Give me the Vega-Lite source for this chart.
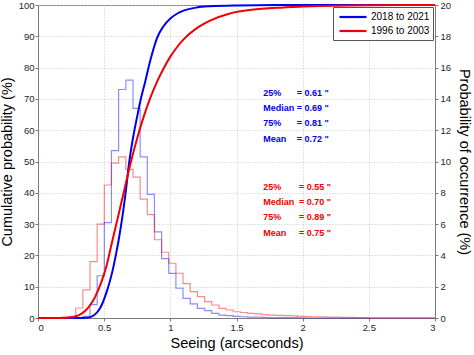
{
  "$schema": "https://vega.github.io/schema/vega-lite/v6.json",
  "width": 397,
  "height": 313,
  "autosize": {"type": "none"},
  "padding": {"left": 38, "top": 5, "right": 39, "bottom": 37},
  "config": {
    "font": "Liberation Sans",
    "view": {"stroke": "#7a7a7a", "strokeWidth": 1},
    "axis": {
      "labelFont": "Liberation Sans",
      "labelFontSize": 9.5,
      "labelColor": "#262626",
      "titleFont": "Liberation Sans",
      "titleFontSize": 14.5,
      "titleFontWeight": "normal",
      "titleColor": "#000000",
      "domainColor": "#7a7a7a",
      "tickColor": "#7a7a7a",
      "tickSize": 3,
      "labelPadding": 1,
      "gridColor": "#c4c4c4",
      "gridDash": [1, 2],
      "gridWidth": 1
    },
    "legend": {
      "orient": "top-right", "offset": 2, "title": null,
      "symbolType": "M-2.7,0H2.7", "symbolSize": 100, "symbolOffset": 10,
      "symbolStrokeWidth": 2.2, "symbolOpacity": 1, "labelFontSize": 10, "labelColor": "#000000",
      "fillColor": "#ffffff", "strokeColor": "#555555", "padding": 3.5, "rowPadding": 2, "labelOffset": 11.5
    }
  },
  "datasets": {
    "hist": [
      {"period": "2018 to 2021", "seeing": 0, "prob": 0},
      {"period": "2018 to 2021", "seeing": 0.339, "prob": 0.1},
      {"period": "2018 to 2021", "seeing": 0.393, "prob": 0.85},
      {"period": "2018 to 2021", "seeing": 0.447, "prob": 2.7},
      {"period": "2018 to 2021", "seeing": 0.501, "prob": 6.1},
      {"period": "2018 to 2021", "seeing": 0.555, "prob": 10.7},
      {"period": "2018 to 2021", "seeing": 0.609, "prob": 14.6},
      {"period": "2018 to 2021", "seeing": 0.664, "prob": 15.2},
      {"period": "2018 to 2021", "seeing": 0.718, "prob": 13.4},
      {"period": "2018 to 2021", "seeing": 0.772, "prob": 10.3},
      {"period": "2018 to 2021", "seeing": 0.826, "prob": 7.9},
      {"period": "2018 to 2021", "seeing": 0.880, "prob": 5.5},
      {"period": "2018 to 2021", "seeing": 0.934, "prob": 3.8},
      {"period": "2018 to 2021", "seeing": 0.988, "prob": 2.85},
      {"period": "2018 to 2021", "seeing": 1.042, "prob": 1.9},
      {"period": "2018 to 2021", "seeing": 1.096, "prob": 1.25},
      {"period": "2018 to 2021", "seeing": 1.150, "prob": 0.9},
      {"period": "2018 to 2021", "seeing": 1.205, "prob": 0.62},
      {"period": "2018 to 2021", "seeing": 1.259, "prob": 0.47},
      {"period": "2018 to 2021", "seeing": 1.313, "prob": 0.3},
      {"period": "2018 to 2021", "seeing": 1.367, "prob": 0.19},
      {"period": "2018 to 2021", "seeing": 1.421, "prob": 0.15},
      {"period": "2018 to 2021", "seeing": 1.475, "prob": 0.1},
      {"period": "2018 to 2021", "seeing": 1.529, "prob": 0.08},
      {"period": "2018 to 2021", "seeing": 1.583, "prob": 0.06},
      {"period": "2018 to 2021", "seeing": 1.637, "prob": 0.05},
      {"period": "2018 to 2021", "seeing": 1.691, "prob": 0.04},
      {"period": "2018 to 2021", "seeing": 1.745, "prob": 0.03},
      {"period": "2018 to 2021", "seeing": 1.799, "prob": 0.03},
      {"period": "2018 to 2021", "seeing": 1.854, "prob": 0.02},
      {"period": "2018 to 2021", "seeing": 1.908, "prob": 0.02},
      {"period": "2018 to 2021", "seeing": 1.962, "prob": 0.01},
      {"period": "2018 to 2021", "seeing": 2.016, "prob": 0},
      {"period": "2018 to 2021", "seeing": 3, "prob": 0},
      {"period": "1996 to 2003", "seeing": 0, "prob": 0},
      {"period": "1996 to 2003", "seeing": 0.177, "prob": 0.05},
      {"period": "1996 to 2003", "seeing": 0.231, "prob": 0.1},
      {"period": "1996 to 2003", "seeing": 0.285, "prob": 0.64},
      {"period": "1996 to 2003", "seeing": 0.339, "prob": 1.8},
      {"period": "1996 to 2003", "seeing": 0.393, "prob": 3.6},
      {"period": "1996 to 2003", "seeing": 0.447, "prob": 6.0},
      {"period": "1996 to 2003", "seeing": 0.501, "prob": 8.5},
      {"period": "1996 to 2003", "seeing": 0.555, "prob": 9.9},
      {"period": "1996 to 2003", "seeing": 0.609, "prob": 10.3},
      {"period": "1996 to 2003", "seeing": 0.664, "prob": 9.5},
      {"period": "1996 to 2003", "seeing": 0.718, "prob": 9.0},
      {"period": "1996 to 2003", "seeing": 0.772, "prob": 7.6},
      {"period": "1996 to 2003", "seeing": 0.826, "prob": 6.6},
      {"period": "1996 to 2003", "seeing": 0.880, "prob": 5.0},
      {"period": "1996 to 2003", "seeing": 0.934, "prob": 4.2},
      {"period": "1996 to 2003", "seeing": 0.988, "prob": 3.5},
      {"period": "1996 to 2003", "seeing": 1.042, "prob": 2.86},
      {"period": "1996 to 2003", "seeing": 1.096, "prob": 2.2},
      {"period": "1996 to 2003", "seeing": 1.150, "prob": 1.68},
      {"period": "1996 to 2003", "seeing": 1.205, "prob": 1.36},
      {"period": "1996 to 2003", "seeing": 1.259, "prob": 1.04},
      {"period": "1996 to 2003", "seeing": 1.313, "prob": 0.83},
      {"period": "1996 to 2003", "seeing": 1.367, "prob": 0.62},
      {"period": "1996 to 2003", "seeing": 1.421, "prob": 0.51},
      {"period": "1996 to 2003", "seeing": 1.475, "prob": 0.4},
      {"period": "1996 to 2003", "seeing": 1.529, "prob": 0.35},
      {"period": "1996 to 2003", "seeing": 1.583, "prob": 0.3},
      {"period": "1996 to 2003", "seeing": 1.637, "prob": 0.26},
      {"period": "1996 to 2003", "seeing": 1.691, "prob": 0.22},
      {"period": "1996 to 2003", "seeing": 1.745, "prob": 0.19},
      {"period": "1996 to 2003", "seeing": 1.799, "prob": 0.17},
      {"period": "1996 to 2003", "seeing": 1.854, "prob": 0.15},
      {"period": "1996 to 2003", "seeing": 1.908, "prob": 0.13},
      {"period": "1996 to 2003", "seeing": 1.962, "prob": 0.11},
      {"period": "1996 to 2003", "seeing": 2.016, "prob": 0.09},
      {"period": "1996 to 2003", "seeing": 2.070, "prob": 0.08},
      {"period": "1996 to 2003", "seeing": 2.124, "prob": 0.07},
      {"period": "1996 to 2003", "seeing": 2.178, "prob": 0.06},
      {"period": "1996 to 2003", "seeing": 2.232, "prob": 0.05},
      {"period": "1996 to 2003", "seeing": 2.286, "prob": 0.04},
      {"period": "1996 to 2003", "seeing": 2.340, "prob": 0.04},
      {"period": "1996 to 2003", "seeing": 2.394, "prob": 0.03},
      {"period": "1996 to 2003", "seeing": 2.448, "prob": 0.02},
      {"period": "1996 to 2003", "seeing": 2.502, "prob": 0},
      {"period": "1996 to 2003", "seeing": 3, "prob": 0}
    ],
    "cdf": [
      {"period": "2018 to 2021", "seeing": 0, "cum": 0},
      {"period": "2018 to 2021", "seeing": 0.30, "cum": 0},
      {"period": "2018 to 2021", "seeing": 0.37, "cum": 0.1},
      {"period": "2018 to 2021", "seeing": 0.42, "cum": 0.8},
      {"period": "2018 to 2021", "seeing": 0.47, "cum": 3.2},
      {"period": "2018 to 2021", "seeing": 0.52, "cum": 8.5},
      {"period": "2018 to 2021", "seeing": 0.56, "cum": 14.5},
      {"period": "2018 to 2021", "seeing": 0.59, "cum": 20.5},
      {"period": "2018 to 2021", "seeing": 0.61, "cum": 25},
      {"period": "2018 to 2021", "seeing": 0.64, "cum": 33},
      {"period": "2018 to 2021", "seeing": 0.665, "cum": 41},
      {"period": "2018 to 2021", "seeing": 0.69, "cum": 50},
      {"period": "2018 to 2021", "seeing": 0.72, "cum": 58},
      {"period": "2018 to 2021", "seeing": 0.75, "cum": 64.5},
      {"period": "2018 to 2021", "seeing": 0.78, "cum": 70.5},
      {"period": "2018 to 2021", "seeing": 0.81, "cum": 75.5},
      {"period": "2018 to 2021", "seeing": 0.85, "cum": 82.5},
      {"period": "2018 to 2021", "seeing": 0.90, "cum": 89.5},
      {"period": "2018 to 2021", "seeing": 0.95, "cum": 93.3},
      {"period": "2018 to 2021", "seeing": 1.0, "cum": 95.7},
      {"period": "2018 to 2021", "seeing": 1.05, "cum": 97.2},
      {"period": "2018 to 2021", "seeing": 1.1, "cum": 98.2},
      {"period": "2018 to 2021", "seeing": 1.2, "cum": 99.2},
      {"period": "2018 to 2021", "seeing": 1.3, "cum": 99.6},
      {"period": "2018 to 2021", "seeing": 1.5, "cum": 99.88},
      {"period": "2018 to 2021", "seeing": 1.8, "cum": 100},
      {"period": "2018 to 2021", "seeing": 3, "cum": 100},
      {"period": "1996 to 2003", "seeing": 0, "cum": 0},
      {"period": "1996 to 2003", "seeing": 0.15, "cum": 0},
      {"period": "1996 to 2003", "seeing": 0.22, "cum": 0.1},
      {"period": "1996 to 2003", "seeing": 0.28, "cum": 0.5},
      {"period": "1996 to 2003", "seeing": 0.33, "cum": 1.4},
      {"period": "1996 to 2003", "seeing": 0.38, "cum": 3.3},
      {"period": "1996 to 2003", "seeing": 0.43, "cum": 6.6},
      {"period": "1996 to 2003", "seeing": 0.48, "cum": 11.6},
      {"period": "1996 to 2003", "seeing": 0.52, "cum": 17},
      {"period": "1996 to 2003", "seeing": 0.55, "cum": 22.5},
      {"period": "1996 to 2003", "seeing": 0.60, "cum": 31.5},
      {"period": "1996 to 2003", "seeing": 0.65, "cum": 40.5},
      {"period": "1996 to 2003", "seeing": 0.70, "cum": 49.5},
      {"period": "1996 to 2003", "seeing": 0.75, "cum": 57.5},
      {"period": "1996 to 2003", "seeing": 0.80, "cum": 64.5},
      {"period": "1996 to 2003", "seeing": 0.85, "cum": 70.5},
      {"period": "1996 to 2003", "seeing": 0.90, "cum": 75.5},
      {"period": "1996 to 2003", "seeing": 0.95, "cum": 79.8},
      {"period": "1996 to 2003", "seeing": 1.0, "cum": 83.5},
      {"period": "1996 to 2003", "seeing": 1.05, "cum": 86.5},
      {"period": "1996 to 2003", "seeing": 1.1, "cum": 89},
      {"period": "1996 to 2003", "seeing": 1.2, "cum": 92.6},
      {"period": "1996 to 2003", "seeing": 1.3, "cum": 95},
      {"period": "1996 to 2003", "seeing": 1.45, "cum": 97.3},
      {"period": "1996 to 2003", "seeing": 1.6, "cum": 98.4},
      {"period": "1996 to 2003", "seeing": 1.8, "cum": 99.1},
      {"period": "1996 to 2003", "seeing": 2.0, "cum": 99.5},
      {"period": "1996 to 2003", "seeing": 2.5, "cum": 99.95},
      {"period": "1996 to 2003", "seeing": 3, "cum": 100}
    ],
    "stats": [
      {"period": "2018 to 2021", "lx": 1.703, "vx": 1.955, "y": 71.8, "label": "25%", "val": "=  0.61 \""},
      {"period": "2018 to 2021", "lx": 1.703, "vx": 1.955, "y": 67.0, "label": "Median", "val": "=  0.69 \""},
      {"period": "2018 to 2021", "lx": 1.703, "vx": 1.955, "y": 62.2, "label": "75%", "val": "=  0.81 \""},
      {"period": "2018 to 2021", "lx": 1.703, "vx": 1.955, "y": 57.1, "label": "Mean", "val": "=  0.72 \""},
      {"period": "1996 to 2003", "lx": 1.703, "vx": 1.973, "y": 41.9, "label": "25%", "val": "=  0.55 \""},
      {"period": "1996 to 2003", "lx": 1.703, "vx": 1.973, "y": 37.2, "label": "Median", "val": "=  0.70 \""},
      {"period": "1996 to 2003", "lx": 1.703, "vx": 1.973, "y": 32.2, "label": "75%", "val": "=  0.89 \""},
      {"period": "1996 to 2003", "lx": 1.703, "vx": 1.973, "y": 27.1, "label": "Mean", "val": "=  0.75 \""}
    ]
  },
  "layer": [
    {
      "data": {"name": "hist"},
      "mark": {"type": "line", "interpolate": "step-after", "strokeWidth": 1.2, "opacity": 0.45},
      "encoding": {
        "x": {"field": "seeing", "type": "quantitative", "scale": {"domain": [0, 3]},
              "axis": {"title": "Seeing (arcseconds)", "values": [0, 0.5, 1, 1.5, 2, 2.5, 3], "format": "~g", "grid": true, "titlePadding": 5}},
        "y": {"field": "prob", "type": "quantitative", "scale": {"domain": [0, 20]},
              "axis": {"orient": "right", "title": "Probability of occurrence (%)", "values": [0, 2, 4, 6, 8, 10, 12, 14, 16, 18, 20], "grid": false, "labelPadding": 2, "titlePadding": 6}},
        "color": {"field": "period", "type": "nominal",
                  "scale": {"domain": ["2018 to 2021", "1996 to 2003"], "range": ["#0000f0", "#f00000"]}}
      }
    },
    {
      "layer": [
        {
          "data": {"name": "cdf"},
          "mark": {"type": "line", "interpolate": "monotone", "strokeWidth": 2},
          "encoding": {
            "x": {"field": "seeing", "type": "quantitative"},
            "y": {"field": "cum", "type": "quantitative", "scale": {"domain": [0, 100]},
                  "axis": {"orient": "left", "title": "Cumulative probability (%)", "values": [0, 10, 20, 30, 40, 50, 60, 70, 80, 90, 100], "grid": true, "titlePadding": 4}},
            "color": {"field": "period", "type": "nominal"}
          }
        },
        {
          "data": {"name": "stats"},
          "mark": {"type": "text", "align": "left", "baseline": "middle", "fontSize": 9, "fontWeight": "bold"},
          "encoding": {
            "x": {"field": "lx", "type": "quantitative"},
            "y": {"field": "y", "type": "quantitative",
                  "axis": {"orient": "left", "title": "Cumulative probability (%)", "values": [0, 10, 20, 30, 40, 50, 60, 70, 80, 90, 100], "grid": true, "titlePadding": 4}},
            "text": {"field": "label"},
            "color": {"field": "period", "type": "nominal"}
          }
        },
        {
          "data": {"name": "stats"},
          "mark": {"type": "text", "align": "left", "baseline": "middle", "fontSize": 9, "fontWeight": "bold"},
          "encoding": {
            "x": {"field": "vx", "type": "quantitative"},
            "y": {"field": "y", "type": "quantitative",
                  "axis": {"orient": "left", "title": "Cumulative probability (%)", "values": [0, 10, 20, 30, 40, 50, 60, 70, 80, 90, 100], "grid": true, "titlePadding": 4}},
            "text": {"field": "val"},
            "color": {"field": "period", "type": "nominal"}
          }
        }
      ]
    }
  ],
  "resolve": {"scale": {"y": "independent"}}
}
